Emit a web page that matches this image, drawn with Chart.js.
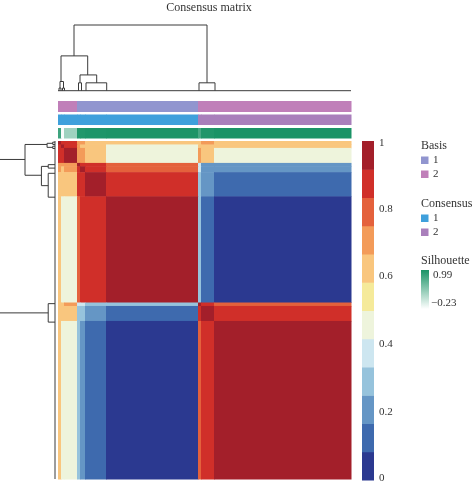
<!DOCTYPE html>
<html>
<head>
<meta charset="utf-8">
<script src="https://cdn.jsdelivr.net/npm/chart.js@4.4.0/dist/chart.umd.min.js"></script>
<style>
  html, body { margin: 0; padding: 0; background: #fff; }
</style>
</head>
<body>
<canvas id="consensusChart" width="474" height="488"></canvas>
<script>
// sample groups in dendrogram order, with their sizes (number of samples)
const groups = ['g1', 'g2', 'g3', 'g4', 'g5', 'g6', 'g7', 'g8a', 'g8b', 'g9'];
const groupSizes = [3, 3, 13, 3, 5, 21, 92, 3, 13, 137];

// consensus index between groups (row group x column group)
const consensus = [
  [0.97, 0.87, 0.87, 0.70, 0.70, 0.62, 0.62, 0.62, 0.70, 0.62],
  [0.87, 0.97, 0.87, 0.70, 0.62, 0.62, 0.45, 0.62, 0.62, 0.62],
  [0.87, 0.87, 0.97, 0.70, 0.70, 0.62, 0.45, 0.70, 0.62, 0.45],
  [0.70, 0.70, 0.70, 0.97, 0.87, 0.87, 0.79, 0.37, 0.20, 0.20],
  [0.70, 0.62, 0.70, 0.87, 0.97, 0.87, 0.79, 0.37, 0.20, 0.20],
  [0.62, 0.62, 0.62, 0.87, 0.87, 0.97, 0.87, 0.29, 0.20, 0.12],
  [0.62, 0.45, 0.45, 0.79, 0.87, 0.87, 0.97, 0.29, 0.12, 0.03],
  [0.62, 0.62, 0.70, 0.37, 0.37, 0.29, 0.29, 0.97, 0.87, 0.79],
  [0.62, 0.62, 0.62, 0.29, 0.29, 0.20, 0.12, 0.87, 0.97, 0.87],
  [0.62, 0.45, 0.45, 0.29, 0.20, 0.12, 0.03, 0.79, 0.87, 0.97]
];

// annotation rows
const basis = [2, 2, 2, 1, 1, 1, 1, 2, 2, 2];
const consensusClass = [1, 1, 1, 1, 1, 1, 1, 2, 2, 2];
const silhouette = [0.80, -0.20, 0.28, 0.95, 0.95, 0.97, 0.98, 0.75, 0.96, 0.99];

// dendrogram merges: [leftPos, leftHeight, rightPos, rightHeight, mergeHeight] (positions in samples)
const dendrogram = [
  [16, 0.53, 149, 0.12, 1.0],
  [3, 0.14, 29.7, 0.24, 0.53],
  [2, 0.04, 5.5, 0.04, 0.14],
  [1, 0, 3, 0, 0.04],
  [4.5, 0, 6.5, 0, 0.04],
  [22, 0.12, 38.7, 0.12, 0.24],
  [20.5, 0, 23.5, 0, 0.12],
  [28, 0, 48.7, 0, 0.12],
  [141, 0, 157, 0, 0.12]
];

// colour scale (12 bins, from 0 to 1) and colour bar ticks
const binColors = ['#2b3990', '#3e6aae', '#6596c5', '#96c3dc', '#cde6f0', '#eef4dc',
                   '#f5ea9a', '#f9c67e', '#f39b59', '#e4613c', '#d02f29', '#a31f2a'];
const colorTicks = [0, 0.2, 0.4, 0.6, 0.8, 1];

const basisColors = { 1: '#9195cf', 2: '#c07fb9' };
const consensusColors = { 1: '#3fa0dc', 2: '#a97fbb' };
const silRange = [-0.23, 0.99];

const totalSamples = groupSizes.reduce((a, b) => a + b, 0);
const bounds = [0];
groupSizes.forEach(s => bounds.push(bounds[bounds.length - 1] + s));

const serif = "'Liberation Serif', 'DejaVu Serif', serif";
const textColor = '#333';

function cellColor(v) {
  return binColors[Math.min(binColors.length - 1, Math.floor(v * binColors.length))];
}

function silColor(v) {
  const t = (v - silRange[0]) / (silRange[1] - silRange[0]);
  const r = Math.round(255 + (26 - 255) * t);
  const g = Math.round(255 + (147 - 255) * t);
  const b = Math.round(255 + (102 - 255) * t);
  return `rgb(${r},${g},${b})`;
}

// cell centres as the chart data (drawn as rectangles by the plugin below)
const cells = [];
groups.forEach((gr, i) => {
  groups.forEach((gc, j) => {
    cells.push({ x: (bounds[j] + bounds[j + 1]) / 2, y: (bounds[i] + bounds[i + 1]) / 2, v: consensus[i][j], i, j });
  });
});

const heatmapPlugin = {
  id: 'heatmap',
  beforeDatasetsDraw(chart) {
    const { ctx, scales: { x, y, cb } } = chart;
    ctx.save();

    // heatmap cells
    cells.forEach(c => {
      const x0 = x.getPixelForValue(bounds[c.j]);
      const x1 = x.getPixelForValue(bounds[c.j + 1]);
      const y0 = y.getPixelForValue(bounds[c.i]);
      const y1 = y.getPixelForValue(bounds[c.i + 1]);
      ctx.fillStyle = cellColor(c.v);
      ctx.fillRect(x0, y0, x1 - x0 + 0.5, y1 - y0 + 0.5);
    });

    // annotation tracks above the heatmap
    const tracks = [
      { top: 101, bottom: 112, color: j => basisColors[basis[j]] },
      { top: 114.5, bottom: 125, color: j => consensusColors[consensusClass[j]] },
      { top: 128, bottom: 138.5, color: j => silColor(silhouette[j]) }
    ];
    tracks.forEach(t => {
      groups.forEach((g, j) => {
        const x0 = x.getPixelForValue(bounds[j]);
        const x1 = x.getPixelForValue(bounds[j + 1]);
        ctx.fillStyle = t.color(j);
        ctx.fillRect(x0, t.top, x1 - x0 + 0.5, t.bottom - t.top);
      });
    });

    // dendrograms
    const topBase = 90.7, topScale = 65.7;
    const leftBase = 55, leftScale = 56.6;
    ctx.strokeStyle = '#3a3a3a';
    ctx.lineWidth = 1;
    ctx.beginPath();
    dendrogram.forEach(([pl, hl, pr, hr, hm]) => {
      // column dendrogram
      const xl = x.getPixelForValue(pl), xr = x.getPixelForValue(pr);
      ctx.moveTo(xl, topBase - hl * topScale);
      ctx.lineTo(xl, topBase - hm * topScale);
      ctx.lineTo(xr, topBase - hm * topScale);
      ctx.lineTo(xr, topBase - hr * topScale);
      // row dendrogram
      const yl = y.getPixelForValue(pl), yr = y.getPixelForValue(pr);
      ctx.moveTo(leftBase - hl * leftScale, yl);
      ctx.lineTo(leftBase - hm * leftScale, yl);
      ctx.lineTo(leftBase - hm * leftScale, yr);
      ctx.lineTo(leftBase - hr * leftScale, yr);
    });
    ctx.moveTo(x.getPixelForValue(0), topBase);
    ctx.lineTo(x.getPixelForValue(totalSamples), topBase);
    ctx.moveTo(leftBase, y.getPixelForValue(0));
    ctx.lineTo(leftBase, y.getPixelForValue(totalSamples));
    ctx.stroke();

    // colour bar
    const cbLeft = 362, cbRight = 374;
    const cbTop = cb.getPixelForValue(1), cbBottom = cb.getPixelForValue(0) + 1;
    binColors.forEach((col, k) => {
      const yb = cbBottom - (cbBottom - cbTop) * k / binColors.length;
      const yt = cbBottom - (cbBottom - cbTop) * (k + 1) / binColors.length;
      ctx.fillStyle = col;
      ctx.fillRect(cbLeft, yt, cbRight - cbLeft, yb - yt + 0.5);
    });
    ctx.fillStyle = textColor;
    ctx.font = `11px ${serif}`;
    ctx.textAlign = 'left';
    ctx.textBaseline = 'middle';
    colorTicks.forEach(t => {
      const py = cbBottom - (cbBottom - cbTop) * t;
      ctx.fillText(String(t), 379, Math.min(Math.max(py, cbTop + 2), cbBottom - 2));
    });

    // title
    ctx.font = `12px ${serif}`;
    ctx.textAlign = 'center';
    ctx.fillText('Consensus matrix', 209, 8);

    // legends
    ctx.textAlign = 'left';
    const drawGroup = (title, top, items) => {
      ctx.fillStyle = textColor;
      ctx.font = `12px ${serif}`;
      ctx.fillText(title, 421, top);
      items.forEach(([label, col], k) => {
        const yy = top + 14 + k * 14;
        ctx.fillStyle = col;
        ctx.fillRect(421, yy - 3.5, 7.5, 7.5);
        ctx.fillStyle = textColor;
        ctx.font = `11px ${serif}`;
        ctx.fillText(label, 433, yy + 0.5);
      });
    };
    drawGroup('Basis', 146, [['1', basisColors[1]], ['2', basisColors[2]]]);
    drawGroup('Consensus', 204, [['1', consensusColors[1]], ['2', consensusColors[2]]]);

    ctx.fillStyle = textColor;
    ctx.font = `12px ${serif}`;
    ctx.fillText('Silhouette', 421, 261);
    const grad = ctx.createLinearGradient(0, 270, 0, 309);
    grad.addColorStop(0, silColor(silRange[1]));
    grad.addColorStop(1, silColor(silRange[0]));
    ctx.fillStyle = grad;
    ctx.fillRect(421, 270, 8, 39);
    ctx.fillStyle = textColor;
    ctx.font = `11px ${serif}`;
    ctx.fillText(String(silRange[1]), 433, 275);
    ctx.fillText('\u2212' + Math.abs(silRange[0]), 431, 303);

    ctx.restore();
  }
};

new Chart(document.getElementById('consensusChart'), {
  type: 'scatter',
  data: {
    datasets: [{
      label: 'Consensus',
      data: cells,
      pointRadius: 0,
      pointHoverRadius: 0
    }]
  },
  options: {
    responsive: false,
    animation: false,
    devicePixelRatio: 1,
    layout: { padding: { left: 58, right: 123, top: 141, bottom: 9 } },
    plugins: {
      legend: { display: false },
      tooltip: { enabled: false }
    },
    scales: {
      x: { type: 'linear', min: 0, max: totalSamples, display: false },
      y: { type: 'linear', min: 0, max: totalSamples, reverse: true, display: false },
      cb: { type: 'linear', min: 0, max: 1, display: false, position: 'right' }
    }
  },
  plugins: [heatmapPlugin]
});
</script>
</body>
</html>
